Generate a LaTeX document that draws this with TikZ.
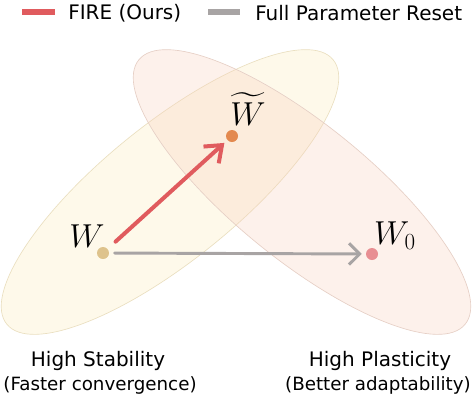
\documentclass[tikz,border=0pt]{standalone}
\usepackage{amsmath}
\usepackage{fontspec}
\usepackage{tikz}
\usetikzlibrary{arrows.meta}
\newfontfamily\legendfont{DejaVu Sans}
\definecolor{stabfill}{HTML}{FCEFC4}
\definecolor{stabline}{HTML}{EADFC0}
\definecolor{plasfill}{HTML}{F8D0BC}
\definecolor{plasline}{HTML}{E6CFC6}
\definecolor{firered}{HTML}{E05B5E}
\definecolor{resetgray}{HTML}{A8A4A4}
\definecolor{wdot}{HTML}{DEC38C}
\definecolor{wtdot}{HTML}{E3894F}
\definecolor{wzdot}{HTML}{E88E92}

\begin{document}
\begin{tikzpicture}[x=0.75pt,y=0.75pt,
  pt/.style={circle,inner sep=0pt,minimum size=9pt},
  wlabel/.style={font=\fontsize{24}{28}\selectfont,inner sep=0.5pt},
  txt/.style={font=\legendfont\fontsize{15}{16.5}\selectfont,align=center},
  subtxt/.style={font=\legendfont\fontsize{13.7}{16.5}\selectfont},
  fire/.style={draw=firered,line width=3pt,line cap=round,
    -{Straight Barb[length=11pt,width=17pt,line width=3pt]}},
  reset/.style={draw=resetgray,line width=2.2pt,line cap=round,
    -{Straight Barb[length=8pt,width=16pt,line width=2.2pt]}}]
\useasboundingbox (0,0) rectangle (474,-401);
%regions
\filldraw[fill=stabfill,fill opacity=.35,draw=stabline,line width=.5pt,rotate around={39:(170,-192)}] (170,-192) ellipse [x radius=210,y radius=68];
\filldraw[fill=plasfill,fill opacity=.3,draw=plasline,line width=.5pt,rotate around={-39:(302,-192)}] (302,-192) ellipse [x radius=210,y radius=68];

%points
\node[pt,fill=wdot] (w) at (103,-253) {};
\node[pt,fill=wtdot] (wt) at (232,-136) {};
\node[pt,fill=wzdot] (w0) at (372,-254) {};
\node[wlabel] (wlab) at (87,-236) {$W$};
\node[wlabel] (wtlab) at (248,-109) {$\widetilde{W}$};
\node[wlabel] (w0lab) at (395,-236) {$W_0$};

%arrows
\draw[fire,shorten <=8pt,shorten >=3pt] (w) -- (wt);
\draw[reset,shorten <=4pt,shorten >=3pt] (w) -- (w0);

%legend
\path (22,-12) coordinate (r1);
\path (55,-12) coordinate (r2);
\path (208,-12) coordinate (g1);
\path (240,-12) coordinate (g2);
\draw[firered,line width=4.5pt] (r1) -- (r2);
\draw[resetgray,line width=4.5pt] (g1) -- (g2);
\node[txt,anchor=west,inner sep=0pt] (firetxt) at (68,-13) {FIRE (Ours)};
\node[txt,anchor=west,inner sep=0pt] (resettxt) at (255,-13) {Full Parameter Reset};

%captions
\node[txt,inner sep=0pt] (stab) at (98,-361) {High Stability};
\node[subtxt,inner sep=0pt] (stabsub) at (100,-385) {(Faster convergence)};
\node[txt,inner sep=0pt] (plas) at (380,-361) {High Plasticity};
\node[subtxt,inner sep=0pt] (plassub) at (378,-385) {(Better adaptability)};
\end{tikzpicture}
\end{document}
